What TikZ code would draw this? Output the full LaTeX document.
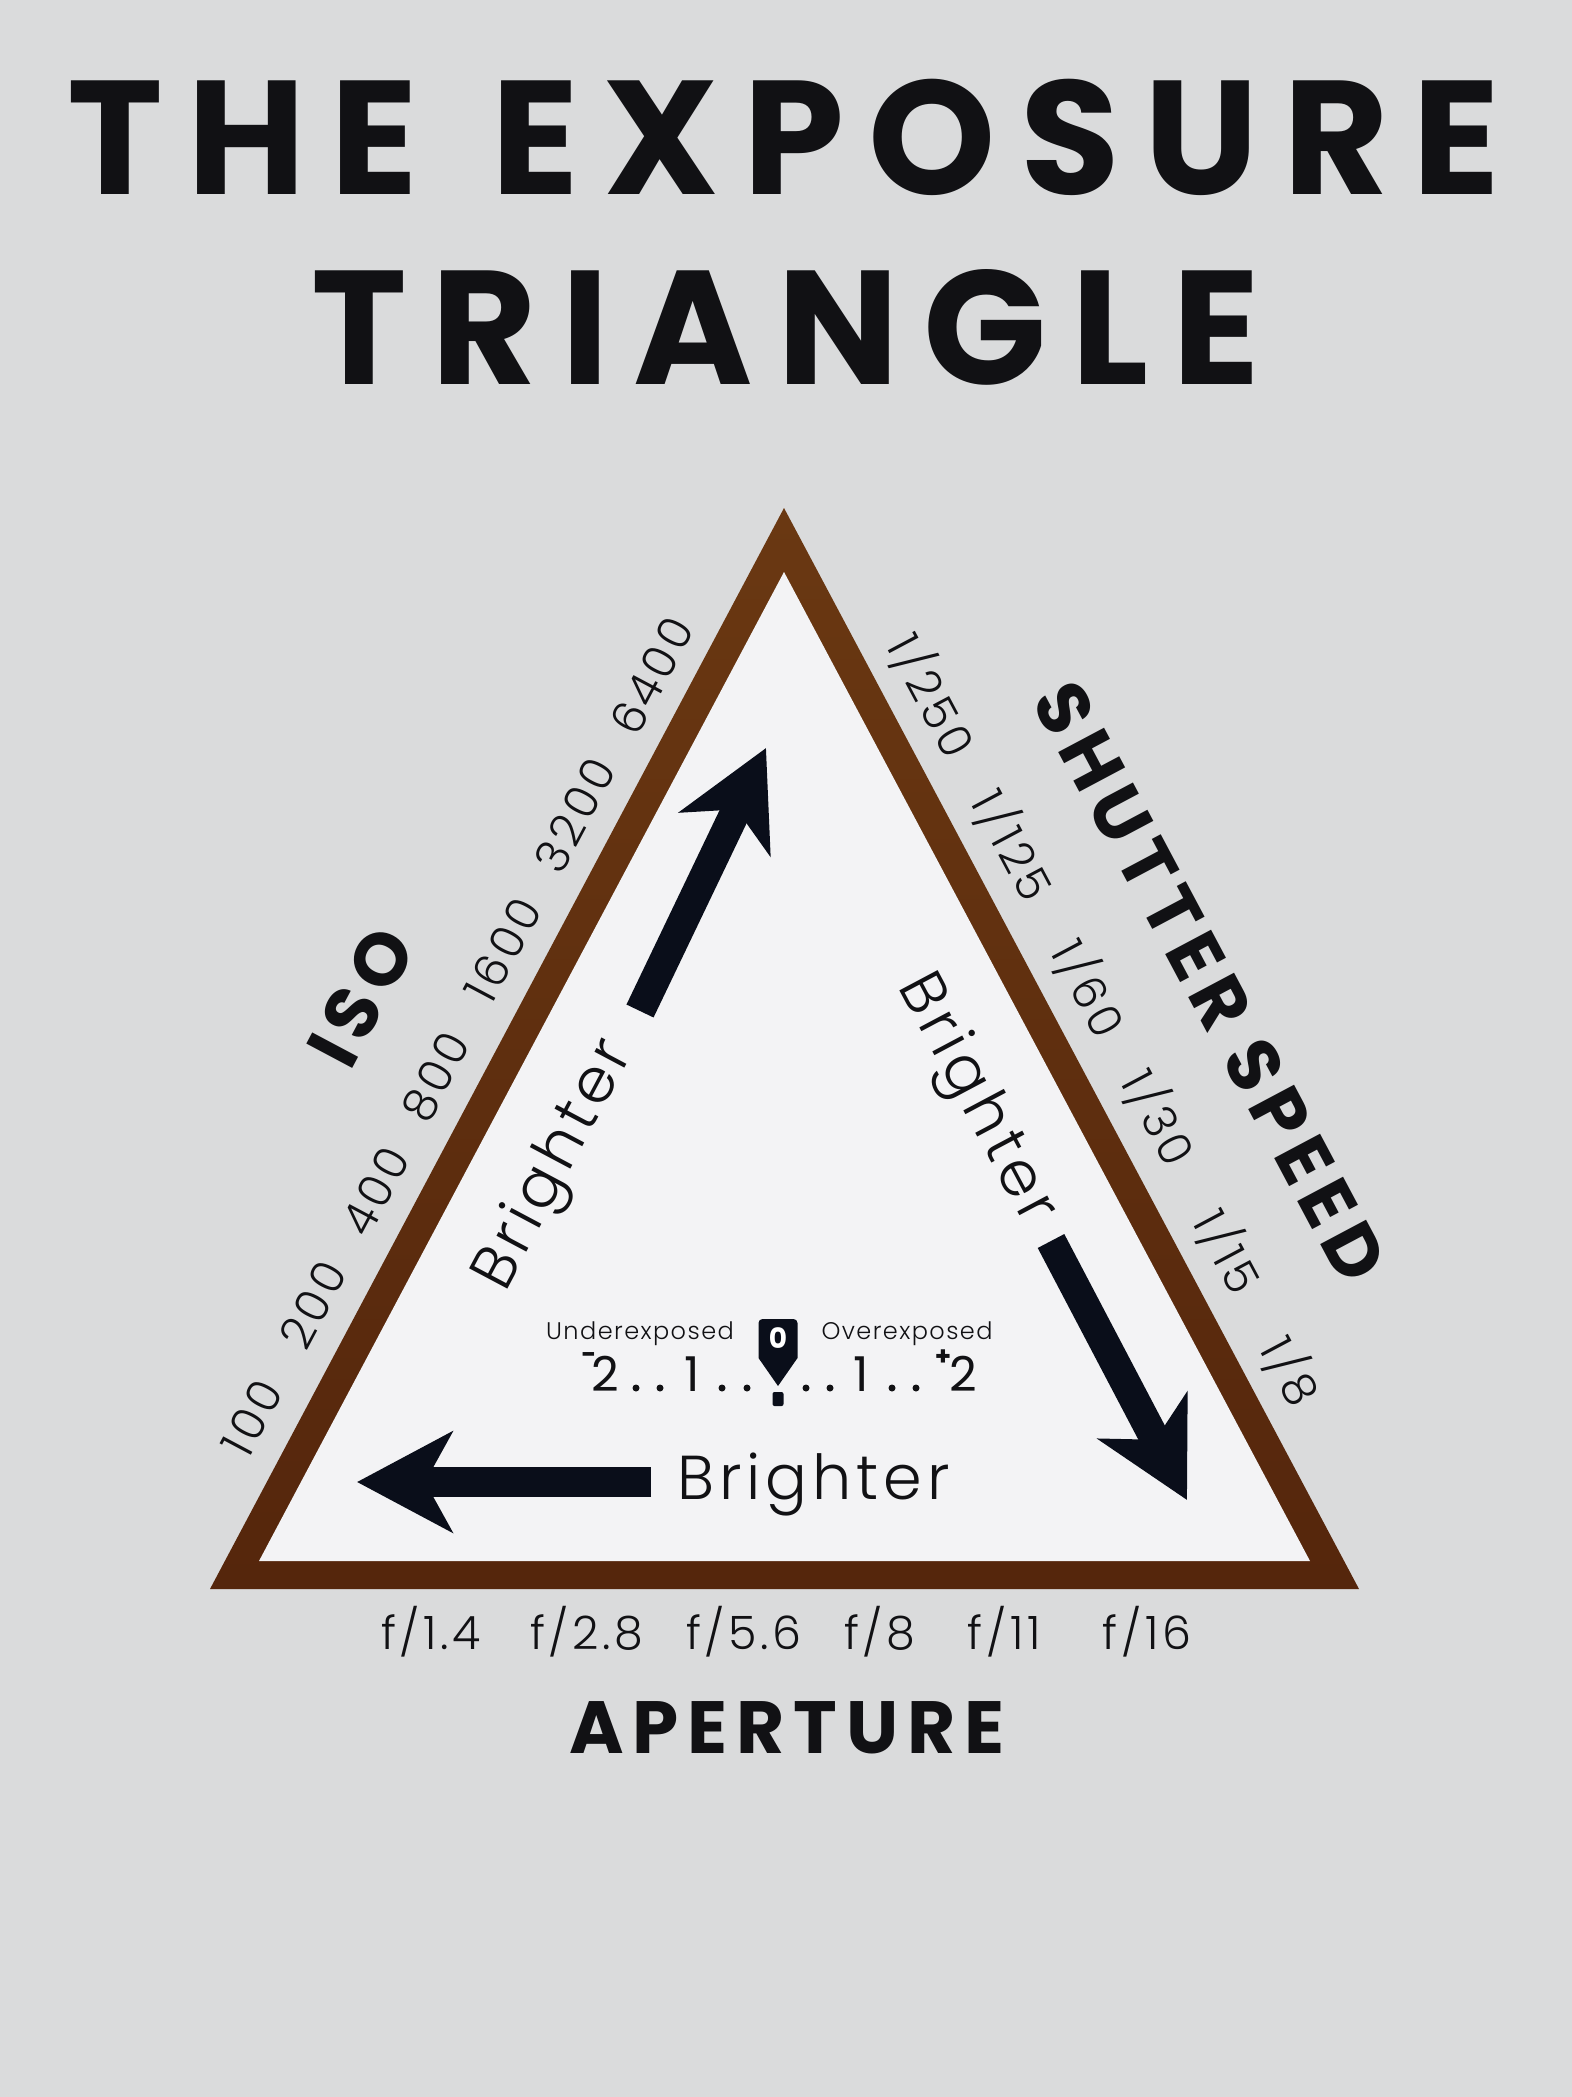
\documentclass[tikz,border=0pt]{standalone}
\usepackage{fontspec}
\setmainfont{Poppins}
\newfontfamily\lightfont{Poppins Light}
\usetikzlibrary{arrows.meta}

\definecolor{bggray}{HTML}{DADBDC}
\definecolor{paper}{HTML}{F3F3F5}
\definecolor{frame}{HTML}{55260C}
\definecolor{frametop}{HTML}{6A3812}
\definecolor{ink}{HTML}{0A0E1A}
\definecolor{textink}{HTML}{111114}

\begin{document}
\begin{tikzpicture}[
    x=0.5pt, y=-0.5pt,
    headline/.style={font=\fontsize{81}{81}\selectfont\bfseries\addfontfeatures{LetterSpace=15},
                     text=textink, inner sep=0pt, anchor=base},
    axislabel/.style={font=\fontsize{37}{37}\selectfont\bfseries\addfontfeatures{LetterSpace=12},
                      text=textink, inner sep=0pt},
    stopval/.style={font=\lightfont\fontsize{23}{23}\selectfont\addfontfeatures{LetterSpace=8},
                    text=textink, inner sep=0pt},
    brighter/.style={font=\lightfont\fontsize{31}{31}\selectfont\addfontfeatures{LetterSpace=8},
                     text=textink, inner sep=0pt},
    meterlabel/.style={font=\lightfont\fontsize{12}{12}\selectfont\addfontfeatures{LetterSpace=6},
                       text=textink, inner sep=0pt, anchor=base},
    meternum/.style={font=\fontsize{24}{24}\selectfont, text=textink, inner sep=0pt, anchor=base},
    metersign/.style={font=\fontsize{13}{13}\selectfont\bfseries, text=textink, inner sep=0pt},
    brightarrow/.style={line width=15pt, draw=ink,
                        -{Stealth[length=47.5pt, width=50pt, inset=13.5pt]}},
]

% Background
\useasboundingbox (0,0) rectangle (1572,2097);
\fill[bggray] (0,0) rectangle (1572,2097);

% Title
\node[headline] (title1) at (784,195) {THE\hspace{37pt}EXPOSURE};
\node[headline] (title2) at (786,385) {TRIANGLE};

% Triangle frame
\coordinate (otop) at (784,508);
\coordinate (oleft) at (210,1589);
\coordinate (oright) at (1359,1589);
\coordinate (itop) at (784,572);
\coordinate (ileft) at (259,1561);
\coordinate (iright) at (1310,1561);
\shade[top color=frametop, bottom color=frame] (otop) -- (oleft) -- (oright) -- cycle;
\fill[paper] (itop) -- (ileft) -- (iright) -- cycle;

% ISO side
\node[axislabel, rotate=62] (iso) at (361,997) {ISO};
\node[stopval, rotate=62] (iso100) at (252,1418) {100};
\node[stopval, rotate=62] (iso200) at (313,1305) {200};
\node[stopval, rotate=62] (iso400) at (375,1191) {400};
\node[stopval, rotate=62] (iso800) at (436,1077) {800};
\node[stopval, rotate=62] (iso1600) at (503,950) {1600};
\node[stopval, rotate=62] (iso3200) at (575,815) {3200};
\node[stopval, rotate=62] (iso6400) at (652,676) {6400};

% Shutter side
\node[axislabel, rotate=-62] (shutter) at (1210,982) {SHUTTER SPEED};
\node[stopval, rotate=-62] (ss250) at (932,695) {1/250};
\node[stopval, rotate=-62] (ss125) at (1013,845) {1/125};
\node[stopval, rotate=-62] (ss60) at (1089,988) {1/60};
\node[stopval, rotate=-62] (ss30) at (1159,1117) {1/30};
\node[stopval, rotate=-62] (ss15) at (1228,1251) {1/15};
\node[stopval, rotate=-62] (ss8) at (1291,1371) {1/8};

% Aperture side
\node[axislabel, anchor=base] (aperture) at (787,1753) {APERTURE};
\node[stopval, anchor=base] (f14) at (431,1649) {f/1.4};
\node[stopval, anchor=base] (f28) at (587,1649) {f/2.8};
\node[stopval, anchor=base] (f56) at (744,1649) {f/5.6};
\node[stopval, anchor=base] (f8) at (880,1649) {f/8};
\node[stopval, anchor=base] (f11) at (1004,1649) {f/11};
\node[stopval, anchor=base] (f16) at (1147,1649) {f/16};

% Brighter arrows
\coordinate (isotail) at (640,1011);
\coordinate (isotip) at (766,748);
\coordinate (sstail) at (1051,1241);
\coordinate (sstip) at (1187,1500);
\coordinate (aptail) at (651,1482);
\coordinate (aptip) at (357,1482);
\draw[brightarrow] (isotail) -- (isotip);
\draw[brightarrow] (sstail) -- (sstip);
\draw[brightarrow] (aptail) -- (aptip);
\node[brighter, rotate=62] (isobright) at (556,1166) {Brighter};
\node[brighter, rotate=-62] (ssbright) at (975,1100) {Brighter};
\node[brighter, anchor=base west] (apbright) at (677,1499) {Brighter};

% Exposure meter
\node[meterlabel] (under) at (640,1339) {Underexposed};
\node[meterlabel] (over) at (907,1339) {Overexposed};
\fill[ink] (758.5,1358) [rounded corners=2pt] -- (758.5,1319) -- (797.5,1319)
    [sharp corners] -- (797.5,1358) -- (778,1386) -- cycle;
\fill[ink, rounded corners=1pt] (772.5,1392) rectangle (783.5,1406);
\node[font=\fontsize{14}{14}\selectfont\bfseries, text=white, inner sep=0pt] (zero) at (778,1338) {0};
\node[meternum] (mtwo) at (605,1391) {2};
\node[meternum] (mone) at (692,1391) {1};
\node[meternum] (pone) at (861,1391) {1};
\node[meternum] (ptwo) at (963,1391) {2};
\node[metersign] (minus) at (589,1358) {-};
\node[metersign] (plus) at (943,1358) {+};
\foreach \dx in {636,660,722,747,806,830,892,916}
    \fill[textink] (\dx,1388) circle (1.75pt);

\end{tikzpicture}
\end{document}
